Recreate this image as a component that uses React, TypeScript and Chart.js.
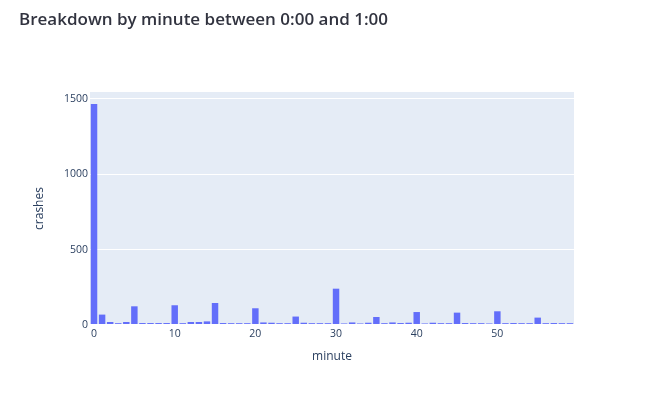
import React, { useEffect, useRef } from "react";
import { Chart, registerables } from "chart.js";

Chart.register(...registerables);

const TITLE = "Breakdown by minute between 0:00 and 1:00";
const X_TITLE = "minute";
const Y_TITLE = "crashes";

const minutes: string[] = Array.from({ length: 60 }, (_, i) => String(i));
const crashes: number[] = [
  1467, 69, 20, 12, 20, 124, 13, 13, 13, 13,
  131, 12, 20, 20, 24, 146, 13, 12, 12, 12,
  111, 17, 15, 12, 12, 56, 15, 12, 12, 12,
  241, 10, 17, 10, 15, 53, 12, 17, 13, 15,
  86, 10, 15, 12, 12, 82, 13, 12, 12, 10,
  91, 12, 13, 12, 12, 49, 12, 13, 12, 12,
];
const yTicks: number[] = [0, 500, 1000, 1500];
const Y_MAX = 1546;

const TEXT = "#2a3f5f";
const FONT = "'Open Sans', sans-serif";

const decor = {
  id: "decor",
  beforeDraw(chart: any) {
    const { ctx, chartArea: a, width, height } = chart;
    ctx.save();
    ctx.fillStyle = "#ffffff";
    ctx.fillRect(0, 0, width, height);
    ctx.fillStyle = "#E5ECF6";
    ctx.fillRect(a.left, a.top, a.right - a.left, a.bottom - a.top);
    ctx.restore();
  },
  afterDraw(chart: any) {
    const { ctx, chartArea: a } = chart;
    ctx.save();
    ctx.fillStyle = "#31333F";
    ctx.font = `600 17px ${FONT}`;
    ctx.textAlign = "left";
    ctx.textBaseline = "alphabetic";
    ctx.fillText(TITLE, 19, 25);

    ctx.fillStyle = TEXT;
    ctx.font = `12px ${FONT}`;
    ctx.textAlign = "center";
    ctx.textBaseline = "middle";
    ctx.fillText(X_TITLE, (a.left + a.right) / 2, 357);
    ctx.translate(39.5, (a.top + a.bottom) / 2);
    ctx.rotate(-Math.PI / 2);
    ctx.fillText(Y_TITLE, 0, 0);
    ctx.restore();
  },
};

export default function App() {
  const ref = useRef<HTMLCanvasElement | null>(null);

  useEffect(() => {
    document.body.style.margin = "0";
    const canvas = ref.current;
    if (!canvas) return;
    const chart = new Chart(canvas, {
      type: "bar",
      data: {
        labels: minutes,
        datasets: [
          {
            data: crashes,
            backgroundColor: "#636EFA",
            borderWidth: 0,
            categoryPercentage: 0.8,
            barPercentage: 1,
          },
        ],
      },
      options: {
        animation: false,
        responsive: true,
        maintainAspectRatio: false,
        layout: { padding: { top: 92, right: 83, left: 0, bottom: 0 } },
        plugins: {
          legend: { display: false },
          tooltip: { enabled: false },
          title: { display: false },
        },
        scales: {
          x: {
            type: "category",
            grid: { display: false, drawTicks: false },
            border: { display: false },
            ticks: {
              autoSkip: false,
              maxRotation: 0,
              minRotation: 0,
              padding: 3,
              color: TEXT,
              font: { family: FONT, size: 10.5 },
              callback: (_v: any, i: number) => (Number(minutes[i]) % 10 === 0 ? minutes[i] : ""),
            },
            afterFit: (s: any) => {
              s.height = 82;
            },
          },
          y: {
            min: 0,
            max: Y_MAX,
            border: { display: false },
            grid: {
              color: "#ffffff",
              drawTicks: false,
              lineWidth: (c: any) => (c.tick && c.tick.value === 0 ? 2 : 1),
            },
            afterBuildTicks: (s: any) => {
              s.ticks = yTicks.map((v) => ({ value: v }));
            },
            ticks: {
              padding: 2,
              color: TEXT,
              font: { family: FONT, size: 10.5 },
              callback: (v: any) => String(v),
            },
            afterFit: (s: any) => {
              s.width = 90;
            },
          },
        },
      },
      plugins: [decor],
    });
    return () => chart.destroy();
  }, []);

  return (
    <div style={{ position: "fixed", left: 0, top: 0, width: 657, height: 407 }}>
      <canvas ref={ref} />
    </div>
  );
}
